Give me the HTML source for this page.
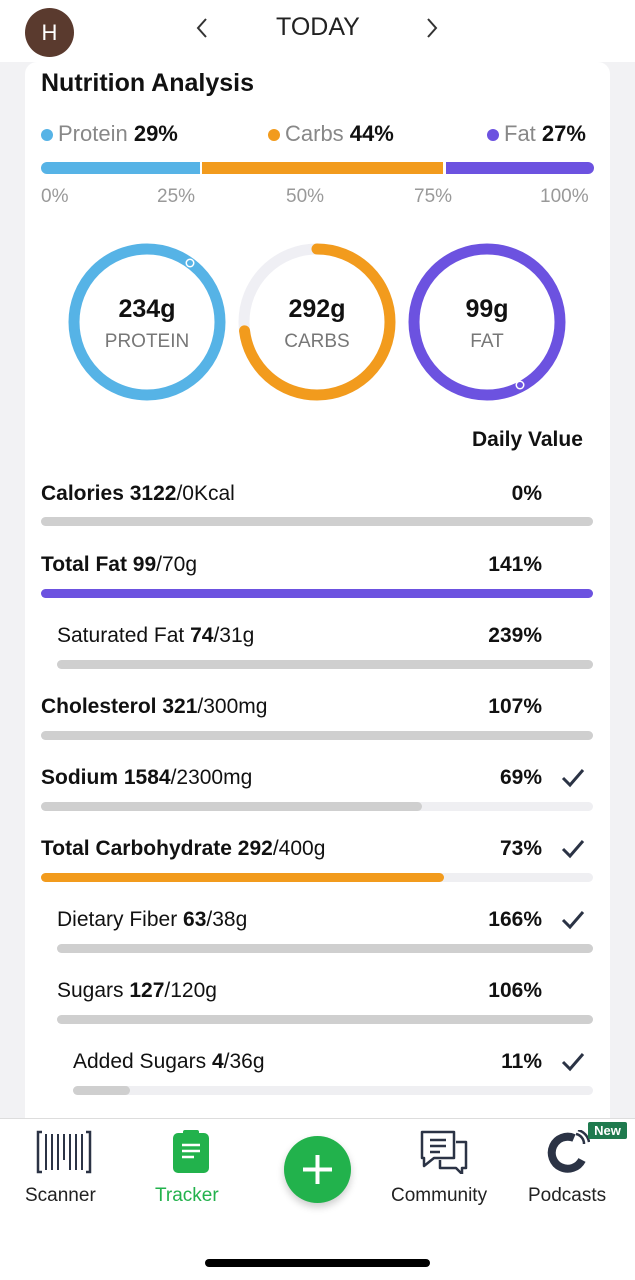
<!DOCTYPE html>
<html><head><meta charset="utf-8"><style>
*{margin:0;padding:0;box-sizing:border-box}
body{width:635px;height:1280px;position:relative;background:#f2f2f4;font-family:"Liberation Sans",sans-serif;color:#111;overflow:hidden}
.a{position:absolute}
.hdr{left:0;top:0;width:635px;height:62px;background:#fff}
.card{left:25px;top:62px;width:585px;height:1070px;background:#fff;border-radius:12px}
.row{position:absolute;font-size:21px;white-space:nowrap}
.pct{position:absolute;font-size:21px;font-weight:bold;text-align:right;width:100px;left:442px}
.bar{position:absolute;height:9px;border-radius:5px;background:#efeff2;right:42px}
.fill{height:9px;border-radius:5px;background:#cfcfcf}
.chk{position:absolute;left:560px;width:26px;height:26px}
.nav{left:0;top:1118px;width:635px;height:162px;background:#fff;border-top:1px solid #ddd}
.nl{position:absolute;top:1185px;font-size:19px;color:#222;text-align:center}
</style></head><body>
<div class="a hdr"></div>
<div class="a" style="left:25px;top:8px;width:49px;height:49px;border-radius:50%;background:#5a3a2e;color:#fff;font-size:22px;text-align:center;line-height:49px">H</div>
<svg class="a" style="left:195px;top:16px" width="16" height="24"><path d="M11 3 L3 12 L11 21" stroke="#333" stroke-width="2" fill="none"/></svg>
<div class="a" style="left:276px;top:13px;font-size:25px;color:#222">TODAY</div>
<svg class="a" style="left:424px;top:16px" width="16" height="24"><path d="M4 3 L12 12 L4 21" stroke="#333" stroke-width="2" fill="none"/></svg>
<div class="a card"></div>
<div class="a" style="left:41px;top:69px;font-size:25px;font-weight:bold">Nutrition Analysis</div>
<div class="a" style="left:41px;top:121px;font-size:22px;color:#888"><span style="display:inline-block;width:12px;height:12px;border-radius:50%;background:#56b3e6;margin-right:5px"></span>Protein <b style="color:#111">29%</b></div>
<div class="a" style="left:268px;top:121px;font-size:22px;color:#888"><span style="display:inline-block;width:12px;height:12px;border-radius:50%;background:#f29b1d;margin-right:5px"></span>Carbs <b style="color:#111">44%</b></div>
<div class="a" style="left:487px;top:121px;font-size:22px;color:#888"><span style="display:inline-block;width:12px;height:12px;border-radius:50%;background:#6c52e0;margin-right:5px"></span>Fat <b style="color:#111">27%</b></div>
<div class="a" style="left:41px;top:162px;width:159px;height:12px;background:#56b3e6;border-radius:6px 0 0 6px"></div>
<div class="a" style="left:202px;top:162px;width:241px;height:12px;background:#f29b1d"></div>
<div class="a" style="left:446px;top:162px;width:148px;height:12px;background:#6c52e0;border-radius:0 6px 6px 0"></div>
<div class="a" style="left:41px;top:186px;width:553px;font-size:19px;color:#999">
<span class="a" style="left:0">0%</span><span class="a" style="left:116px">25%</span><span class="a" style="left:245px">50%</span><span class="a" style="left:373px">75%</span><span class="a" style="left:499px">100%</span></div>
<svg class="a" style="left:0;top:230px" width="635" height="180">
<circle cx="147" cy="92" r="73" fill="none" stroke="#56b3e6" stroke-width="11"/>
<circle cx="190" cy="33" r="4.5" fill="#fff"/><circle cx="190" cy="33" r="3" fill="#56b3e6"/>
<circle cx="317" cy="92" r="73" fill="none" stroke="#efeff4" stroke-width="11"/>
<circle cx="317" cy="92" r="73" fill="none" stroke="#f29b1d" stroke-width="11" stroke-dasharray="335 459" transform="rotate(-90 317 92)" stroke-linecap="round"/>
<circle cx="487" cy="92" r="73" fill="none" stroke="#6c52e0" stroke-width="11"/>
<circle cx="520" cy="155" r="4.5" fill="#fff"/><circle cx="520" cy="155" r="3" fill="#6c52e0"/>
<g font-family="Liberation Sans" text-anchor="middle">
<text x="147" y="87" font-size="25" font-weight="bold" fill="#111">234g</text><text x="147" y="117" font-size="19" fill="#777">PROTEIN</text>
<text x="317" y="87" font-size="25" font-weight="bold" fill="#111">292g</text><text x="317" y="117" font-size="19" fill="#777">CARBS</text>
<text x="487" y="87" font-size="25" font-weight="bold" fill="#111">99g</text><text x="487" y="117" font-size="19" fill="#777">FAT</text>
</g></svg>
<div class="a" style="left:472px;top:428px;font-size:21px;font-weight:bold">Daily Value</div>

<div class="row" style="left:41px;top:482px"><b>Calories 3122</b>/0Kcal</div><div class="pct" style="top:482px">0%</div>
<div class="bar" style="left:41px;top:517px"><div class="fill" style="width:100%"></div></div>

<div class="row" style="left:41px;top:553px"><b>Total Fat 99</b>/70g</div><div class="pct" style="top:553px">141%</div>
<div class="bar" style="left:41px;top:589px"><div class="fill" style="width:100%;background:#6c52e0"></div></div>

<div class="row" style="left:57px;top:624px">Saturated Fat <b>74</b>/31g</div><div class="pct" style="top:624px">239%</div>
<div class="bar" style="left:57px;top:660px"><div class="fill" style="width:100%"></div></div>

<div class="row" style="left:41px;top:695px"><b>Cholesterol 321</b>/300mg</div><div class="pct" style="top:695px">107%</div>
<div class="bar" style="left:41px;top:731px"><div class="fill" style="width:100%"></div></div>

<div class="row" style="left:41px;top:766px"><b>Sodium 1584</b>/2300mg</div><div class="pct" style="top:766px">69%</div>
<div class="bar" style="left:41px;top:802px"><div class="fill" style="width:69%"></div></div>

<div class="row" style="left:41px;top:837px"><b>Total Carbohydrate 292</b>/400g</div><div class="pct" style="top:837px">73%</div>
<div class="bar" style="left:41px;top:873px"><div class="fill" style="width:73%;background:#f29b1d"></div></div>

<div class="row" style="left:57px;top:908px">Dietary Fiber <b>63</b>/38g</div><div class="pct" style="top:908px">166%</div>
<div class="bar" style="left:57px;top:944px"><div class="fill" style="width:100%"></div></div>

<div class="row" style="left:57px;top:979px">Sugars <b>127</b>/120g</div><div class="pct" style="top:979px">106%</div>
<div class="bar" style="left:57px;top:1015px"><div class="fill" style="width:100%"></div></div>

<div class="row" style="left:73px;top:1050px">Added Sugars <b>4</b>/36g</div><div class="pct" style="top:1050px">11%</div>
<div class="bar" style="left:73px;top:1086px"><div class="fill" style="width:11%"></div></div>

<svg class="chk" style="top:765px" viewBox="0 0 26 26"><path d="M3 13 L10 20 L23 5" stroke="#2b3345" stroke-width="3" fill="none"/></svg>
<svg class="chk" style="top:836px" viewBox="0 0 26 26"><path d="M3 13 L10 20 L23 5" stroke="#2b3345" stroke-width="3" fill="none"/></svg>
<svg class="chk" style="top:907px" viewBox="0 0 26 26"><path d="M3 13 L10 20 L23 5" stroke="#2b3345" stroke-width="3" fill="none"/></svg>
<svg class="chk" style="top:1049px" viewBox="0 0 26 26"><path d="M3 13 L10 20 L23 5" stroke="#2b3345" stroke-width="3" fill="none"/></svg>

<div class="a nav"></div>
<svg class="a" style="left:36px;top:1130px" width="56" height="44"><g stroke="#2b3345" stroke-width="2.5" fill="none"><path d="M6 2H2V42H6M50 2H54V42H50"/><path d="M10 4V40M16 4V40M22 4V40M28 4V30M34 4V40M40 4V40M46 4V40" stroke-width="2"/></g></svg>
<svg class="a" style="left:172px;top:1130px" width="38" height="44"><rect x="1" y="3" width="36" height="40" rx="5" fill="#22b24c"/><rect x="11" y="0" width="16" height="6" rx="2" fill="#22b24c"/><g stroke="#fff" stroke-width="2.5"><path d="M10 15H28M10 21H28M10 27H22"/></g></svg>
<div class="a" style="left:284px;top:1136px;width:67px;height:67px;border-radius:50%;background:#22b24c;box-shadow:0 4px 8px rgba(0,0,0,.2)"></div>
<svg class="a" style="left:296px;top:1148px" width="43" height="43"><path d="M21.5 7V36M7 21.5H36" stroke="#fff" stroke-width="4"/></svg>
<svg class="a" style="left:420px;top:1130px" width="48" height="44"><g stroke="#2b3345" stroke-width="2.5" fill="none" stroke-linejoin="round"><path d="M2 2H34V28H14L4 36V28H2Z"/><path d="M10 10H26M10 16H26M10 22H20"/><path d="M36 12H46V38H42V44L36 38H20V30"/></g></svg>
<svg class="a" style="left:546px;top:1130px" width="44" height="44"><path d="M28 8 A16 16 0 1 0 36 30" stroke="#2b3345" stroke-width="8" fill="none"/><path d="M30 4 A10 10 0 0 1 38 14M32 0 A15 15 0 0 1 43 12" stroke="#2b3345" stroke-width="2.5" fill="none"/></svg>
<div class="a" style="left:588px;top:1122px;width:39px;height:17px;background:#1f7a4e;color:#fff;font-size:13px;font-weight:bold;text-align:center;line-height:17px;border-radius:2px">New</div>
<div class="nl" style="left:25px">Scanner</div>
<div class="nl" style="left:155px;color:#22b24c">Tracker</div>
<div class="nl" style="left:391px">Community</div>
<div class="nl" style="left:528px">Podcasts</div>
<div class="a" style="left:205px;top:1259px;width:225px;height:8px;border-radius:4px;background:#000"></div>
</body></html>
